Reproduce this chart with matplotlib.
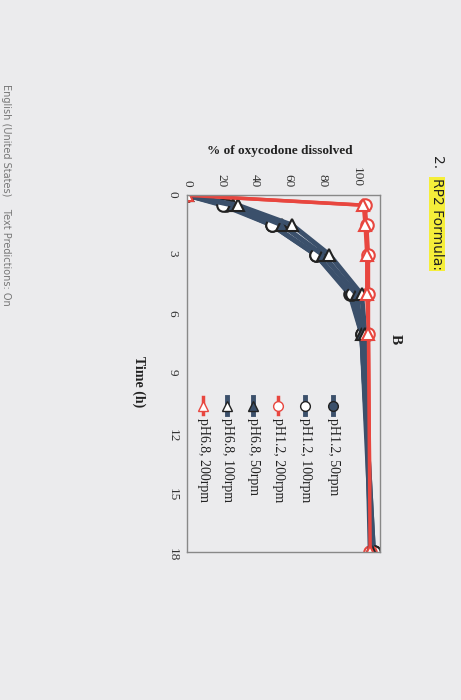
import matplotlib
matplotlib.use("Agg")
import matplotlib.pyplot as plt
from matplotlib.lines import Line2D

time = [0, 0.5, 1.5, 3, 5, 7, 18]
ph12_50 = [0, 23, 50, 76, 96, 103, 110]
ph12_100 = [0, 21, 50, 76, 97, 103, 110]
ph12_200 = [0, 105, 106, 107, 107, 107, 108]
ph68_50 = [0, 27, 56, 80, 100, 103, 109]
ph68_100 = [0, 30, 62, 84, 103, 105, 108]
ph68_200 = [0, 104, 105, 106, 106, 107, 108]
labels = ["pH1.2, 50rpm", "pH1.2, 100rpm", "pH1.2, 200rpm",
          "pH6.8, 50rpm", "pH6.8, 100rpm", "pH6.8, 200rpm"]
xticks = [0, 3, 6, 9, 12, 15, 18]
yticks = [0, 20, 40, 60, 80, 100]

blue = "#3b506b"
red = "#e8463f"
serif = "Liberation Serif"

fig = plt.figure(figsize=(4.61, 7.0), dpi=100)
fig.patch.set_facecolor("#ebebed")
ax = fig.add_axes([0.406, 0.211, 0.419, 0.51])
ax.set_facecolor("#ebebed")

series = [
    (ph12_50, blue, "o", blue, 3.5),
    (ph12_100, blue, "o", "white", 3.5),
    (ph12_200, red, "o", "white", 2.5),
    (ph68_50, blue, "^", blue, 3.5),
    (ph68_100, blue, "^", "white", 3.5),
    (ph68_200, red, "^", "white", 2.5),
]
handles = []
for vals, c, m, fc, lw in series:
    ax.plot(vals, time, color=c, lw=lw, marker=m, ms=9, mfc=fc,
            mec=("#222222" if c == blue else red), mew=1.5)
    handles.append((c, m, fc, lw))

ax.set_xlim(0, 114)
ax.set_ylim(18, 0)
ax.set_xticks(yticks)
ax.set_yticks(xticks)
ax.tick_params(length=0, labelsize=9.5, colors="#333333", pad=6)
ax.xaxis.tick_top()
for lab in ax.get_xticklabels():
    lab.set_rotation(-90); lab.set_family(serif)
for lab in ax.get_yticklabels():
    lab.set_rotation(-90); lab.set_family(serif)
for s in ax.spines.values():
    s.set_color("#888888"); s.set_linewidth(1)

fig.text(0.449, 0.784, "% of oxycodone dissolved", fontsize=9.5, weight="bold",
         family=serif, ha="left", va="center", color="#222222")
fig.text(0.30, 0.455, "Time (h)", fontsize=10, weight="bold", family=serif,
         rotation=-90, ha="center", va="center", color="#222222")
fig.text(0.857, 0.515, "B", fontsize=11, weight="bold", family=serif,
         rotation=-90, ha="center", va="center", color="#222222")
fig.text(0.948, 0.768, "2.", fontsize=10, rotation=-90, ha="center", va="center", color="#222222")
fig.text(0.948, 0.68, "RP2 Formula:", fontsize=10, rotation=-90, ha="center", va="center",
         color="#222222", bbox=dict(facecolor="#f5ee3a", edgecolor="none", pad=1))
fig.text(0.012, 0.88, "English (United States)    Text Predictions: On", fontsize=7,
         rotation=-90, ha="center", va="top", color="#777777")

# manual rotated legend
leg_x = [333, 305, 278, 253, 227, 203]
for (c, m, fc, lw), lab, xp in zip(handles, labels, leg_x):
    xf = xp / 461
    y0, y1 = 1 - 397 / 700, 1 - 414 / 700
    fig.add_artist(Line2D([xf, xf], [y0, y1], color=c, lw=lw, transform=fig.transFigure))
    fig.add_artist(Line2D([xf], [(y0 + y1) / 2], marker=m, ms=7, mfc=fc,
                          mec=("#222222" if c == blue else red), color=c, transform=fig.transFigure))
    fig.text(xf, 1 - 418 / 700, lab, fontsize=10, family=serif, rotation=-90,
             ha="center", va="top", color="#222222")

fig.savefig("out.png", dpi=100, facecolor=fig.get_facecolor())
